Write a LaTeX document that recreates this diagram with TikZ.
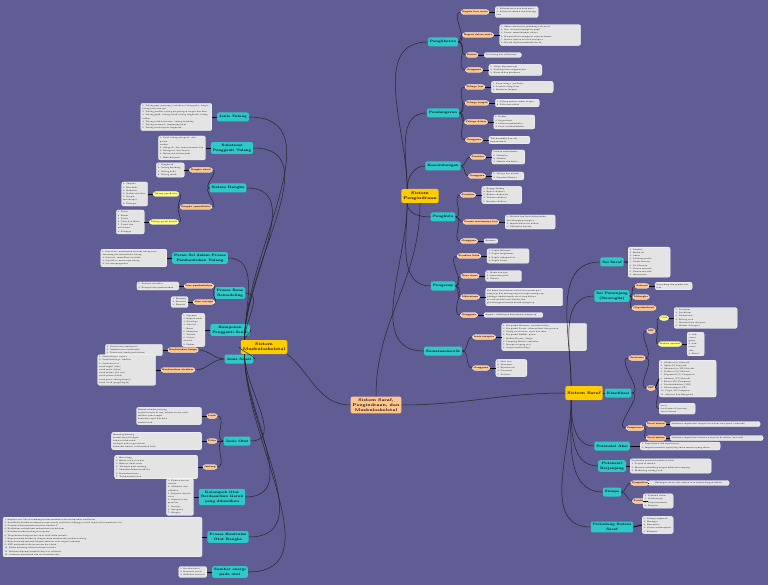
\documentclass[tikz,border=0pt]{standalone}
\usepackage{xcolor}
\definecolor{bgc}{RGB}{96,92,148}
\definecolor{teal}{RGB}{46,200,200}
\definecolor{gold}{RGB}{255,204,0}
\definecolor{peach}{RGB}{255,196,140}
\definecolor{lyel}{RGB}{255,255,120}
\definecolor{gbg}{RGB}{228,228,228}
\begin{document}
\begin{tikzpicture}[x=1pt,y=-1pt,
 hub/.style={fill=gold,rounded corners=2pt,align=center,font=\fontsize{4}{5}\selectfont\bfseries,inner sep=2pt,minimum width=30pt,minimum height=14pt},
 br/.style={fill=teal,rounded corners=2pt,align=center,font=\fontsize{3.3}{4.6}\selectfont\bfseries,inner sep=2pt,minimum height=9pt},
 sb/.style={fill=peach,rounded corners=3pt,draw=white,line width=0.3pt,font=\fontsize{2.2}{3}\selectfont\bfseries,inner sep=1.2pt,minimum height=5pt},
 yb/.style={fill=lyel,rounded corners=3pt,draw=white,line width=0.3pt,font=\fontsize{2.2}{3}\selectfont,inner sep=1.2pt,minimum height=5pt},
 gbox/.style={fill=gbg,rounded corners=2pt,draw=white,line width=0.3pt,align=left,font=\fontsize{2}{3.2}\selectfont,inner sep=1.5pt},
 ln/.style={draw=black!85,line width=0.5pt},
 st/.style={draw=black,line width=0.8pt}]
\fill[bgc] (0,0) rectangle (768,585);
\useasboundingbox (0,0) rectangle (768,585);
% hubs
\node[hub,fill=peach,minimum width=44pt] (c) at (376,405) {Sistem Saraf,\\ Pengindraan, dan\\ Muskuloskeletal};
\node[hub] (hp) at (420,196) {Sistem\\ Pengindraan};
\node[hub] (hm) at (264,347) {Sistem\\ Muskuloskeletal};
\node[hub] (hs) at (584,393) {Sistem Saraf};
\draw[ln] (c.north) to[out=90,in=-90] (hp.south);
\draw[ln] (c.west) to[out=180,in=-40] (hm.south east);
\draw[ln] (c.east) to[out=0,in=180] (hs.west);
% ===== Pengindraan =====
\foreach \n/\y/\t in {p1/42/Penglihatan,p2/113/Pendengaran,p3/166/Keseimbangan,p4/217/Penghidu,p5/286/Pengecap,p6/351/Somatosensorik}
 {\node[br] (\n) at (443,\y) {\t};}
\foreach \n in {p1,p2,p3}{\draw[ln] (hp.north west) ++(6,0) to[out=90,in=180] (\n.west);}
\foreach \n in {p4,p5,p6}{\draw[ln] (hp.south west) ++(6,0) to[out=-90,in=180] (\n.west);}
\newcommand\sub[6]{\node[sb] (#1) at (#2) {#3};\draw[ln] (#4.east) to[out=0,in=180] (#1.west);
 \node[gbox,text width=#5pt,anchor=west] (#1g) at ([xshift=6pt]#1.east) {#6};\draw[st] (#1.east) -- (#1g.west);}
\sub{p1a}{475,12}{Bagian luar mata}{p1}{40}{1. Kelopak mata dan bulu mata\\2. Kelenjar lakrimal dan konjungtiva}
\sub{p1b}{478,35}{Bagian dalam mata}{p1}{78}{1. Sklera dan kornea pelindung bola mata\\2. Iris: otot polos pengatur pupil\\3. Lensa: memfokuskan cahaya\\4. Korpus siliaris penghasil aqueous humor\\5. Retina lapisan saraf fotoreseptor\\6. Koroid lapisan pembuluh darah}
\sub{p1c}{472,55}{Retina}{p1}{34}{Sel batang dan sel kerucut}
\sub{p1d}{474,70}{Gangguan}{p1}{50}{1. Miopi, hipermetropi\\2. Presbiopi dan astigmatisma\\3. Katarak dan glaukoma}
\sub{p2a}{475,87}{Telinga luar}{p2}{59}{1. Daun telinga (aurikula)\\2. Saluran telinga luar\\3. Membran timpani}
\sub{p2b}{477,103}{Telinga tengah}{p2}{41}{1. Tulang maleus, inkus, stapes\\2. Tuba eustachius}
\sub{p2c}{476,122}{Telinga dalam}{p2}{38}{1. Koklea\\2. Organ korti\\3. Saluran semisirkular\\4. Saraf vestibulokoklear}
\sub{p2d}{474,140}{Gangguan}{p2}{38}{Tuli konduktif dan tuli\\sensorineural}
\sub{p3a}{478,157}{Struktur}{p3}{30}{Saluran semisirkular\\1. Utrikulus\\2. Sakulus\\3. Makula dan krista}
\sub{p3b}{477,176}{Gangguan}{p3}{29}{1. Vertigo dan mabuk\\2. Penyakit Meniere}
\sub{p4a}{468,195}{Struktur}{p4}{37}{1. Rongga hidung\\2. Epitel olfaktori\\3. Bulbus olfaktorius\\4. Traktus olfaktori\\5. Korteks olfaktori}
\sub{p4b}{481,222}{Proses terciumnya bau}{p4}{47}{1. Molekul bau larut dalam lendir\\dan ditangkap reseptor\\2. Impuls dibawa ke bulbus\\3. Dikirim ke korteks}
\sub{p4c}{469,241}{Gangguan}{p4}{11}{Anosmia}
\sub{p5a}{469,256}{Struktur lidah}{p5}{39}{1. Papila filiformis\\2. Papila fungiformis\\3. Papila sirkumvalata\\4. Papila foliata}
\sub{p5b}{470,276}{Rasa dasar}{p5}{33}{1. Manis dan asin\\2. Asam dan pahit\\3. Umami}
\sub{p5c}{470,297}{Mekanisme}{p5}{74}{Zat kimia larut dalam air liur lalu masuk pori\\pengecap dan merangsang sel reseptor pengecap\\sehingga timbul impuls saraf yang dibawa\\ke otak melalui saraf fasialis dan\\glosofaringeus menuju korteks pengecap}
\sub{p5d}{469,315}{Gangguan}{p5}{56}{Ageusia: kehilangan kemampuan mengecap}
\sub{p6a}{484,337}{Jenis reseptor}{p6}{82}{1. Korpuskel Meissner: sentuhan halus\\2. Korpuskel Pacini: tekanan kuat dan getaran\\3. Ujung saraf bebas: nyeri dan suhu\\4. Korpuskel Ruffini: panas\\5. Bulbus Krause: dingin\\6. Lempeng Merkel: sentuhan\\7. Reseptor regang otot\\8. Organ tendon Golgi}
\sub{p6b}{481,368}{Gangguan}{p6}{28}{1. Mati rasa\\2. Neuropati\\3. Hiperestesia\\4. Parestesia\\5. Alodinia}
% ===== Sistem Saraf =====
\foreach \n/\y/\t in {s1/262/Sel Saraf,s2/296/{Sel Penunjang\\(Neuroglia)},s4/446/Potensial Aksi,s5/466/{Potensial\\Berjenjang},s6/492/Sinaps,s7/527/{Pelindung Sistem\\Saraf}}
 {\node[br] (\n) at (612,\y) {\t};}
\node[br] (s3) at (618,393) {Klasifikasi};
\foreach \n in {s1,s2}{\draw[ln] (hs.north west) ++(6,0) to[out=90,in=180] (\n.west);}
\draw[ln] (hs.east) -- (s3.west);
\foreach \n in {s4,s5,s6,s7}{\draw[ln] (hs.south west) ++(6,0) to[out=-90,in=180] (\n.west);}
\node[gbox,text width=39pt,anchor=north west] (s1g) at (628,247) {1. Dendrit\\2. Badan sel\\3. Akson\\4. Selubung mielin\\5. Nodus Ranvier\\6. Sel Schwann\\7. Neuron sensorik\\8. Neuron motorik\\9. Interneuron};
\draw[st] (s1.east) -- (s1g.west);
\node[sb] (s2a) at (642,286) {Astrosit}; \node[sb] (s2b) at (641,297) {Mikroglia}; \node[sb] (s2c) at (644,308) {Oligodendrosit};
\foreach \n in {s2a,s2b,s2c}{\draw[ln] (s2.east) to[out=0,in=180] (\n.west);}
\node[gbox,text width=34pt,anchor=west] (s2g) at (655,286) {Penyokong dan pemberi nutrisi};
\draw[st] (s2a.east) -- (s2g.west);
\node[sb] (s3a) at (637,358) {Anatomis}; \node[sb] (s3b) at (635,428) {Fungsional};
\draw[ln] (s3.east) to[out=0,in=180] (s3a.west); \draw[ln] (s3.east) to[out=0,in=180] (s3b.west);
\node[sb] (sa1) at (651,331) {SSP}; \node[sb] (sa2) at (651,388) {SST};
\draw[ln] (s3a.east) to[out=0,in=180] (sa1.west); \draw[ln] (s3a.east) to[out=0,in=180] (sa2.west);
\node[yb] (so) at (664,318) {Otak}; \node[yb] (sm) at (670,344) {Medula spinalis};
\draw[ln] (sa1.east) to[out=0,in=180] (so.west); \draw[ln] (sa1.east) to[out=0,in=180] (sm.west);
\node[gbox,text width=60pt,anchor=west] (sog) at (674,318) {1. Serebrum\\2. Serebelum\\3. Diensefalon\\4. Batang otak\\5. Mesensefalon dan pons\\6. Medula oblongata};
\draw[st] (so.east) -- (sog.west);
\node[gbox,text width=14pt,anchor=west] (smg) at (687,344) {1. Substansi\\grisea\\2. Substansi\\alba\\3. Kanal};
\draw[st] (sm.east) -- (smg.west);
\node[gbox,text width=54pt,anchor=north west] (sag) at (659,360) {1. Olfaktori (I) Sensorik\\2. Optik (II) Sensorik\\3. Okulomotor (III) Motorik\\4. Troklear (IV) Motorik\\5. Trigeminal (V) Campuran\\6. Abdusen (VI) Motorik\\7. Fasial (VII) Campuran\\8. Vestibulokoklear (VIII)\\9. Glosofaringeal (IX)\\10. Vagus (X) Campuran\\11. Aksesori dan Hipoglosal};
\draw[st] (sa2.east) -- (sag.west);
\node[gbox,text width=33pt,anchor=north west] (sag2) at (659,403) {Saraf\\Saraf spinal 31 pasang\\Saraf otonom};
\draw[ln] (sa2.east) to[out=0,in=180] (sag2.west);
\node[sb] (sf1) at (656,424) {Saraf aferen}; \node[sb] (sf2) at (656,438) {Saraf eferen};
\draw[ln] (s3b.east) to[out=0,in=180] (sf1.west); \draw[ln] (s3b.east) to[out=0,in=180] (sf2.west);
\node[gbox,text width=87pt,anchor=west] (sf1g) at (670,424) {Membawa impuls dari reseptor ke sistem saraf pusat (sensorik)};
\node[gbox,text width=90pt,anchor=west] (sf2g) at (670,438) {Membawa impuls dari sistem saraf pusat ke efektor (motorik)};
\draw[st] (sf1.east) -- (sf1g.west); \draw[st] (sf2.east) -- (sf2g.west);
\node[gbox,text width=77pt,anchor=west] (s4g) at (640,446) {1. Depolarisasi dan repolarisasi\\2. Impuls merambat sepanjang akson menuju ujung akson};
\draw[st] (s4.east) -- (s4g.west);
\node[gbox,text width=78pt,anchor=west] (s5g) at (630,466) {Perubahan potensial membran lokal\\1. Terjadi di dendrit\\2. Besarnya sebanding dengan kekuatan rangsang\\3. Berkurang seiring jarak};
\draw[st] (s5.east) -- (s5g.west);
\node[sb] (s6a) at (640,483) {Pengertian}; \node[sb] (s6b) at (640,501) {Struktur};
\draw[ln] (s6.east) to[out=0,in=180] (s6a.west); \draw[ln] (s6.east) to[out=0,in=180] (s6b.west);
\node[gbox,text width=78pt,align=center,anchor=west] (s6ag) at (648,483) {Hubungan antara dua neuron atau neuron dengan efektor};
\node[gbox,text width=27pt,anchor=west] (s6bg) at (643,501) {1. Terminal akson\\2. Celah sinaps\\3. Neurotransmiter\\4. Reseptor};
\draw[st] (s6a.east) -- (s6ag.west); \draw[st] (s6b.east) -- (s6bg.west);
\node[gbox,text width=28pt,anchor=west] (s7g) at (642,525) {1. Tulang tengkorak\\2. Meninges\\3. Duramater\\4. Cairan serebrospinal\\5. Kolumna};
\draw[st] (s7.east) -- (s7g.west);
% ===== Muskuloskeletal =====
\node[br] (m1) at (233,117) {Jenis Tulang};
\node[br] (m2) at (232,148) {Substansi\\Pengganti Tulang};
\node[br] (m3) at (228,188) {Sistem Rangka};
\node[br] (m4) at (200,258) {Peran Sel dalam Proses\\Pembentukan Tulang};
\node[br] (m5) at (230,293) {Proses Bone\\Remodeling};
\node[br] (m6) at (230,330) {Komponen\\Pengganti Sendi};
\node[br] (m7) at (239,359) {Jenis Sendi};
\node[br] (m8) at (237,441) {Jenis Otot};
\node[br] (m9) at (222,497) {Kelompok Otot\\Berdasarkan Gerak\\yang dihasilkan};
\node[br] (m10) at (228,537) {Proses Kontraksi\\Otot Rangka};
\node[br] (m11) at (230,572) {Sumber energi\\pada otot};
\foreach \n in {m1,m2,m3,m4,m5,m6}{\draw[ln] (hm.north west) ++(4,0) to[out=90,in=0] (\n.east);}
\draw[ln] (hm.west) to[out=180,in=0] (m7.east);
\foreach \n in {m8,m9,m10,m11}{\draw[ln] (hm.south west) ++(4,0) to[out=-90,in=0] (\n.east);}
\newcommand\lsub[6]{\node[sb] (#1) at (#2) {#3};\draw[ln] (#4.west) to[out=180,in=0] (#1.east);
 \node[gbox,text width=#5pt,anchor=east] (#1g) at ([xshift=-5pt]#1.west) {#6};\draw[st] (#1.west) -- (#1g.east);}
\newcommand\lbox[5]{\node[gbox,text width=#3pt,anchor=east] (#1g) at ([xshift=-5pt]#2.west) {#5};\draw[st] (#2.west) -- (#1g.east);}
\lbox{m1}{m1}{68}{}{1. Tulang pipa (panjang) contohnya tulang paha, lengan\\tulang betis dan jari\\2. Tulang pendek: tulang pergelangan tangan dan kaki\\3. Tulang pipih: tulang rusuk, tulang tengkorak, tulang belikat\\4. Tulang tidak beraturan: tulang belakang\\5. Tulang sesamoid: tempurung lutut\\6. Tulang sutural pada tengkorak}
\lbox{m2}{m2}{44}{}{1. Graft tulang autograft: dari pasien\\sendiri\\2. Allograft: dari donor manusia lain\\3. Xenograft: dari hewan\\4. Bahan sintetis keramik\\5. Hidroksiapatit}
\lsub{m3a}{201,170}{Rangka aksial}{m3}{25}{1. Tengkorak\\2. Tulang belakang\\3. Tulang dada\\4. Tulang rusuk}
\node[sb] (m3b) at (196,207) {Rangka apendikular};
\draw[ln] (m3.west) to[out=180,in=0] (m3b.east);
\node[yb] (y1) at (166,194) {Tulang gerak atas}; \node[yb] (y2) at (164,222) {Tulang gerak bawah};
\draw[ln] (m3b.west) to[out=180,in=0] (y1.east); \draw[ln] (m3b.west) to[out=180,in=0] (y2.east);
\node[gbox,text width=23pt,anchor=east] (y1g) at ([xshift=-5pt]y1.west) {1. Skapula\\2. Klavikula\\3. Humerus\\4. Radius dan ulna\\5. Karpal, metakarpal\\6. Falanges};
\node[gbox,text width=25pt,anchor=east] (y2g) at ([xshift=-5pt]y2.west) {1. Pelvis\\2. Femur\\3. Patela\\4. Tibia dan fibula\\5. Tarsal dan metatarsal\\6. Falanges};
\draw[st] (y1.west) -- (y1g.east); \draw[st] (y2.west) -- (y2g.east);
\lbox{m4}{m4}{63}{}{1. Osteoblas: membentuk matriks tulang baru\\dan mengatur mineralisasi tulang\\2. Osteosit: memelihara matriks\\3. Osteoklas: meresorpsi tulang\\4. Sel osteoprogenitor}
\lsub{m5a}{199,286}{Fase pembentukan}{m5}{39}{1. Aktivasi osteoklas\\2. Resorpsi dan pembentukan}
\lsub{m5b}{204,302}{Fase resorpsi}{m5}{14}{1. Resorpsi\\2. Reversal\\3. Formasi}
\lbox{m6}{m6}{20}{}{1. Ligamen\\2. Kapsul sendi\\3. Kartilago\\4. Sinovial\\5. Bursa\\6. Meniskus\\7. Tendon\\8. Cairan sinovial\\9. Diskus};
\lsub{m7a}{183,350}{Berdasarkan fungsi}{m7}{54}{1. Sinartrosis (sendi mati)\\2. Amfiartrosis (sendi kaku)\\3. Diartrosis (sendi gerak bebas)}
\lsub{m7b}{178,370}{Berdasarkan struktur}{m7}{55}{1. Sendi fibrosa: sutura\\2. Sendi kartilago: simfisis\\3. Sendi sinovial:\\sendi engsel (siku)\\sendi putar (leher)\\sendi pelana (ibu jari)\\sendi peluru (bahu)\\sendi geser (tulang karpal)\\sendi ovoid (pergelangan)}
\lsub{m8a}{212,416}{Lurik}{m8}{62}{Bentuk silindris panjang\\berinti banyak di tepi, bekerja secara sadar\\melekat pada rangka\\kontraksi cepat dan kuat\\mudah lelah}
\lsub{m8b}{212,441}{Polos}{m8}{87}{Bentuk gelendong\\berinti satu di tengah\\bekerja tidak sadar\\terdapat pada organ dalam\\kontraksi lambat, tidak mudah lelah}
\lsub{m8c}{210,467}{Jantung}{m8}{80}{1. Bercabang\\2. Berinti satu atau dua\\3. Bekerja tidak sadar\\4. Terdapat pada jantung\\5. Memiliki diskus interkalar\\6. Kontraksi ritmis\\7. Tidak mudah lelah}
\lbox{m9}{m9}{24}{}{1. Fleksor dan ekstensor\\2. Abduktor dan adduktor\\3. Depresor dan elevator\\4. Supinator dan pronator\\5. Sinergis\\6. Antagonis\\7. Sfingter};
\lbox{m10}{m10}{196}{}{1. Impuls saraf tiba di sambungan neuromuskular dan melepaskan asetilkolin\\2. Asetilkolin berikatan dengan reseptor pada sarkolema sehingga terjadi depolarisasi membran otot\\3. Potensial aksi menyebar melalui tubulus T\\4. Retikulum sarkoplasma melepaskan ion kalsium\\5. Kalsium berikatan dengan troponin\\6. Tropomiosin bergeser dan situs aktif aktin terbuka\\7. Kepala miosin berikatan dengan aktin membentuk jembatan silang\\8. Kepala miosin menarik filamen aktin ke arah tengah sarkomer\\9. ATP melepaskan ikatan miosin dari aktin\\10. Siklus berulang selama kalsium tersedia\\11. Kalsium dipompa kembali dan otot relaksasi\\12. Sarkomer memendek dan otot berkontraksi};
\lbox{m11}{m11}{25}{}{1. Kreatin fosfat\\2. Respirasi aerob\\3. Glikolisis anaerob};
\end{tikzpicture}
\end{document}
